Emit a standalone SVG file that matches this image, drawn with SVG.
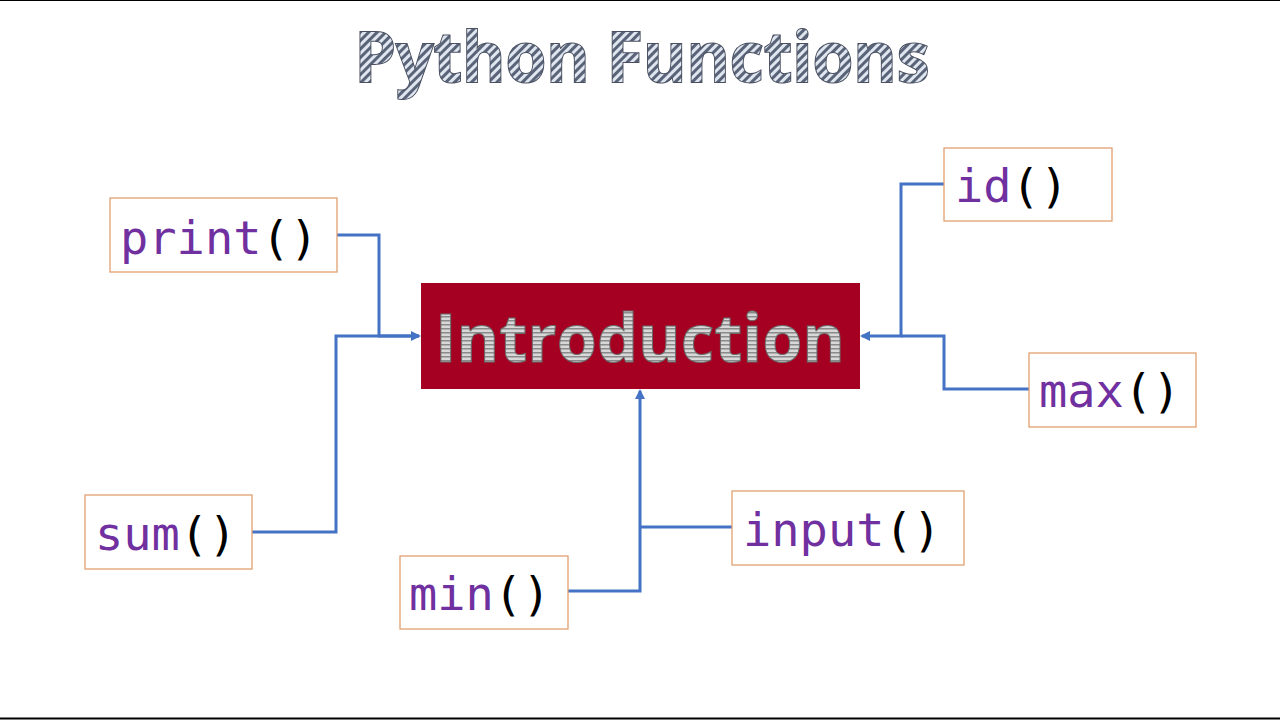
<svg xmlns="http://www.w3.org/2000/svg" width="1280" height="720" viewBox="0 0 1280 720">
<defs>
<pattern id="diag" width="6" height="6" patternUnits="userSpaceOnUse" patternTransform="rotate(45)">
<rect width="6" height="6" fill="#dfe6f0"/><rect width="3" height="6" fill="#5a6478"/>
</pattern>
<pattern id="horiz" width="4" height="4" patternUnits="userSpaceOnUse">
<rect width="4" height="4" fill="#d8d8d8"/><rect width="4" height="1.5" fill="#8a8a8a"/>
</pattern>
<marker id="ah" markerWidth="10" markerHeight="10" refX="8" refY="5" orient="auto" markerUnits="userSpaceOnUse">
<path d="M0,0 L10,5 L0,10 Z" fill="#4472C4"/>
</marker>
</defs>
<style>
.box{fill:#fff;stroke:#E0A070;stroke-width:1.3}
.code{font-family:"DejaVu Sans Mono","Liberation Mono",monospace;font-size:47px;fill:#000}
.fn{fill:#7030A0}
.c{fill:none;stroke:#4472C4;stroke-width:3}
</style>
<rect width="1280" height="720" fill="#fff"/>
<line x1="0" y1="0.5" x2="1280" y2="0.5" stroke="#000"/>
<line x1="0" y1="718.5" x2="1280" y2="718.5" stroke="#000" stroke-width="2"/>
<text x="642" y="82" text-anchor="middle" font-family="'Open Sans',sans-serif" font-weight="bold" font-size="70" textLength="575" lengthAdjust="spacingAndGlyphs" fill="url(#diag)" stroke="#4a5060" stroke-width="2" style="paint-order:stroke">Python Functions</text>
<g id="connectors">
<path class="c" d="M337,235 H379 V336 H419" marker-end="url(#ah)"/>
<path class="c" d="M252,532 H336 V336 H419"/>
<path class="c" d="M944,184 H901 V336 H862" marker-end="url(#ah)"/>
<path class="c" d="M1029,389 H944 V336 H901"/>
<path class="c" d="M568,591 H640 V391" marker-end="url(#ah)"/>
<path class="c" d="M732,527 H640"/>
</g>
<g id="intro">
<rect x="421" y="283" width="439" height="106" fill="#A50021"/>
<text x="640" y="362" text-anchor="middle" font-family="'Open Sans',sans-serif" font-weight="bold" font-size="66" textLength="410" lengthAdjust="spacingAndGlyphs" fill="url(#horiz)" stroke="#6a6a6a" stroke-width="1">Introduction</text>
</g>
<g id="print"><rect class="box" x="110" y="198" width="227" height="74"/><text class="code" x="120" y="254"><tspan class="fn">print</tspan>()</text></g>
<g id="id"><rect class="box" x="944" y="148" width="168" height="73"/><text class="code" x="955" y="202"><tspan class="fn">id</tspan>()</text></g>
<g id="max"><rect class="box" x="1029" y="353" width="167" height="74"/><text class="code" x="1039" y="407"><tspan class="fn">max</tspan>()</text></g>
<g id="sum"><rect class="box" x="85" y="495" width="167" height="74"/><text class="code" x="95" y="550"><tspan class="fn">sum</tspan>()</text></g>
<g id="min"><rect class="box" x="400" y="556" width="168" height="73"/><text class="code" x="409" y="610"><tspan class="fn">min</tspan>()</text></g>
<g id="input"><rect class="box" x="732" y="491" width="232" height="74"/><text class="code" x="743" y="546"><tspan class="fn">input</tspan>()</text></g>
</svg>
